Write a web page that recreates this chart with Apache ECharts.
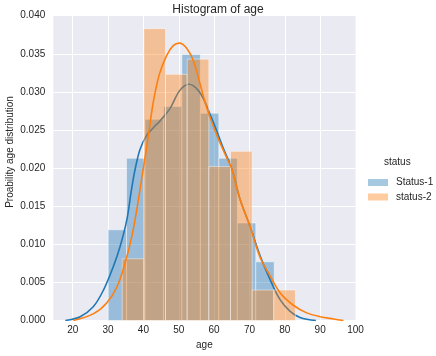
<!DOCTYPE html>
<html><head><meta charset="utf-8">
<script src="https://cdn.jsdelivr.net/npm/echarts@6/dist/echarts.min.js"></script>
<style>html,body{margin:0;padding:0;background:#fff}#c{width:436px;height:356px}</style>
</head><body><div id="c"></div>
<script>
// Histogram bin edges (age) and densities
const status1Edges = [30, 35.22, 40.44, 45.67, 50.89, 56.11, 61.33, 66.56, 71.78, 77];
const status1Density = [0.0119, 0.0213, 0.0264, 0.0281, 0.0349, 0.0272, 0.0213, 0.0128, 0.0077];
const status2Edges = [34, 40.13, 46.25, 52.38, 58.5, 64.63, 70.75, 76.88, 83];
const status2Density = [0.0081, 0.0383, 0.0323, 0.0343, 0.0202, 0.0222, 0.0040, 0.0040];
// KDE curves: [age, density]
const status1Kde = [[17.9,0.0000],[22.1,0.0005],[25.8,0.0018],[28.7,0.0040],[31.5,0.0071],[33.4,0.0097],[35.3,0.0132],[36.5,0.0168],[37.5,0.0195],[39.0,0.0224],[40.9,0.0243],[42.8,0.0253],[44.7,0.0262],[47.5,0.0278],[50.3,0.0302],[53.0,0.0310],[55.5,0.0302],[57.4,0.0287],[58.9,0.0270],[60.8,0.0248],[62.6,0.0226],[65.0,0.0199],[67.4,0.0158],[70.2,0.0123],[73.0,0.0085],[75.9,0.0053],[78.7,0.0027],[81.5,0.0012],[84.3,0.0004],[88.8,0.0000]];
const status2Kde = [[20.2,0.0000],[25.9,0.0009],[29.6,0.0023],[32.5,0.0044],[34.8,0.0075],[36.7,0.0110],[38.1,0.0145],[39.4,0.0183],[40.6,0.0218],[41.4,0.0243],[42.8,0.0287],[44.5,0.0323],[46.6,0.0348],[48.5,0.0361],[50.2,0.0364],[52.3,0.0357],[54.2,0.0340],[56.1,0.0309],[58.0,0.0278],[60.8,0.0243],[63.6,0.0213],[65.0,0.0199],[67.4,0.0158],[70.2,0.0123],[73.0,0.0083],[75.9,0.0058],[78.7,0.0036],[82.4,0.0020],[86.2,0.0010],[90.0,0.0005],[93.8,0.0002],[96.6,0.0000]];
const xTicks = [20, 30, 40, 50, 60, 70, 80, 90, 100];
const yTickLabels = ['0.000','0.005','0.010','0.015','0.020','0.025','0.030','0.035','0.040'];
const seriesNames = ['Status-1', 'status-2'];

const FONT = 'Liberation Sans, Arial, sans-serif';
const TXT = '#262626';
const BLUE = '#1f77b4', ORANGE = '#ff7f0e';
const BLUE_A = 'rgba(31,119,180,0.4)', ORANGE_A = 'rgba(255,127,14,0.4)';

function binData(edges, dens) {
  return dens.map((d, i) => [edges[i], edges[i + 1], d]);
}
function barSeries(name, edges, dens, fill, z) {
  return {
    type: 'custom', name: name, z: z,
    data: binData(edges, dens),
    encode: { x: [0, 1], y: 2 },
    itemStyle: { color: fill },
    renderItem: function (params, api) {
      const p0 = api.coord([api.value(0), api.value(2)]);
      const p1 = api.coord([api.value(1), 0]);
      return {
        type: 'rect',
        shape: { x: p0[0], y: p0[1], width: p1[0] - p0[0], height: p1[1] - p0[1] },
        style: { fill: fill, stroke: 'rgba(255,255,255,0.45)', lineWidth: 1 }
      };
    }
  };
}
function lineSeries(name, data, color, z) {
  return {
    type: 'line', name: name, z: z, data: data, smooth: 0.35,
    showSymbol: false, symbol: 'none',
    lineStyle: { color: color, width: 1.6 }, itemStyle: { color: color }
  };
}

const chart = echarts.init(document.getElementById('c'), null, { renderer: 'canvas' });
chart.setOption({
  animation: false,
  backgroundColor: '#ffffff',
  textStyle: { fontFamily: FONT },
  title: {
    text: 'Histogram of age', left: 'center', top: 4, padding: 0,
    textStyle: { fontSize: 12, fontWeight: 'normal', color: TXT, fontFamily: FONT }
  },
  grid: { left: 53.3, right: 80.5, top: 15.7, bottom: 35.5, show: true, backgroundColor: '#eaeaf2', borderWidth: 0 },
  legend: {
    orient: 'vertical', left: 363, top: 171.5, itemWidth: 20, itemHeight: 7, itemGap: 2.5,
    selectedMode: false,
    textStyle: { fontSize: 10, color: TXT, fontFamily: FONT, lineHeight: 12, padding: [0, 0, 0, 3] },
    data: [
      { name: seriesNames[0], icon: 'rect', itemStyle: { color: BLUE_A } },
      { name: seriesNames[1], icon: 'rect', itemStyle: { color: ORANGE_A } }
    ]
  },
  graphic: [
    {
      type: 'text', left: 384, top: 157,
      style: { text: 'status', fontSize: 10, fill: TXT, fontFamily: FONT }
    },
    {
      type: 'text', x: 10, y: 152, rotation: Math.PI / 2,
      style: { text: 'Proability age distribution', fontSize: 10, fill: TXT, fontFamily: FONT,
               align: 'center', verticalAlign: 'middle' }
    }
  ],
  xAxis: {
    type: 'value', min: 14.5, max: 100, splitNumber: 9,
    name: 'age', nameLocation: 'middle', nameGap: 17,
    nameTextStyle: { fontSize: 10, color: TXT, fontFamily: FONT },
    axisLine: { show: false }, axisTick: { show: false },
    axisLabel: {
      fontSize: 10, color: TXT, margin: 5, fontFamily: FONT, showMinLabel: false,
      formatter: v => xTicks.includes(Math.round(v * 1000) / 1000) ? String(v) : ''
    },
    splitLine: { show: true, showMinLine: false, showMaxLine: false, lineStyle: { color: '#ffffff', width: 1 } }
  },
  yAxis: {
    type: 'value', min: 0, max: 0.04, interval: 0.005,
    axisLine: { show: false }, axisTick: { show: false },
    axisLabel: {
      fontSize: 10, color: TXT, margin: 8, fontFamily: FONT,
      formatter: v => yTickLabels[Math.round(v / 0.005)] || ''
    },
    splitLine: { show: true, lineStyle: { color: '#ffffff', width: 1 } }
  },
  series: [
    barSeries(seriesNames[0], status1Edges, status1Density, BLUE_A, 1),
    lineSeries('kde1', status1Kde, BLUE, 2),
    barSeries(seriesNames[1], status2Edges, status2Density, ORANGE_A, 3),
    lineSeries('kde2', status2Kde, ORANGE, 4)
  ]
});
</script>
</body></html>
